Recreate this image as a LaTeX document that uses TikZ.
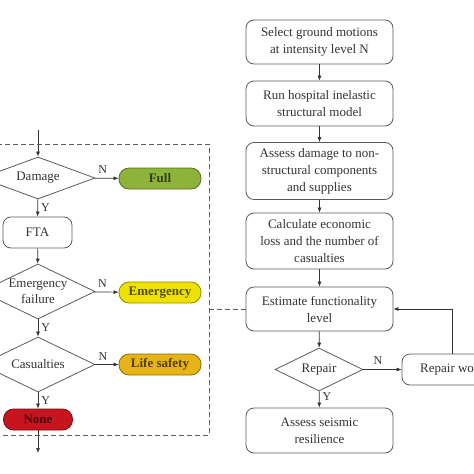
\documentclass[tikz,border=0pt]{standalone}
\usepackage{fontspec}
\setmainfont{Liberation Serif}
\usetikzlibrary{shapes.geometric,arrows.meta}

\definecolor{linegray}{HTML}{5A5A5A}
\definecolor{textgray}{HTML}{333333}
\definecolor{fullgreen}{HTML}{8DB33A}
\definecolor{emyellow}{HTML}{F0E200}
\definecolor{lifegold}{HTML}{E6B417}
\definecolor{nonered}{HTML}{C8141E}

\begin{document}
\begin{tikzpicture}[x=1pt,y=-1pt,
    font=\fontsize{13}{17}\selectfont, text=textgray,
    box/.style={draw=linegray,line width=0.8pt,rounded corners=8pt,
        minimum width=147pt,align=center,inner sep=2pt},
    smallbox/.style={draw=linegray,line width=0.8pt,rounded corners=8pt,
        minimum width=69pt,minimum height=31pt,inner sep=2pt},
    decision/.style={draw=linegray,line width=0.8pt,diamond,inner sep=0pt,
        align=center},
    level/.style={draw=#1!60!black,fill=#1,text=#1!35!black,line width=0.8pt,
        rounded corners=10pt,minimum width=82pt,minimum height=21pt,
        inner sep=1pt,font=\fontsize{13}{15}\selectfont\bfseries},
    flow/.style={draw=black!80,line width=0.7pt,-{Latex[length=5pt,width=4pt]}},
    lbl/.style={font=\fontsize{12}{14}\selectfont,inner sep=1pt}]

    \path[use as bounding box,clip] (0,0) rectangle (474,474);

    % Main procedure
    \node[box,minimum height=44pt] (select) at (319.5,42) {Select ground motions\\at intensity level N};
    \node[box,minimum height=45pt] (run) at (319.5,103.5) {Run hospital inelastic\\structural model};
    \node[box,minimum height=57pt] (assess) at (319.5,171) {Assess damage to non-\\structural components\\and supplies};
    \node[box,minimum height=56pt] (calc) at (319.5,241) {Calculate economic\\loss and the number of\\casualties};
    \node[box,minimum height=44pt] (estimate) at (319.5,309) {Estimate functionality\\level};
    \node[decision,minimum width=88pt,minimum height=43pt,aspect=2.05] (repair) at (319,369.5) {Repair};
    \node[box,minimum width=101pt,minimum height=31pt] (work) at (452.5,369.5) {Repair work};
    \node[box,minimum height=45pt] (seismic) at (319.5,430.5) {Assess seismic\\resilience};

    \draw[flow] (select) -- (run);
    \draw[flow] (run) -- (assess);
    \draw[flow] (assess) -- (calc);
    \draw[flow] (calc) -- (estimate);
    \draw[flow] (estimate) -- (repair);
    \draw[flow] (repair) -- node[lbl,pos=0.38,above=4pt] {N} (work);
    \draw[flow] (repair) -- node[lbl,pos=0.35,right=2pt] {Y} (seismic);
    \draw[flow] (work.north) |- (estimate.east);

    % Functionality levels
    \coordinate (in) at (38,130);
    \coordinate (out) at (38,453);
    \node[decision,minimum width=114pt,minimum height=42pt,aspect=2.7] (damage) at (38,178) {Damage};
    \node[level=fullgreen] (full) at (160,178.5) {Full};
    \node[smallbox] (fta) at (37.5,232.5) {FTA};
    \node[decision,minimum width=114pt,minimum height=55pt,aspect=2.07,
        font=\fontsize{13}{16}\selectfont] (emfail) at (38,291.5) {Emergency\\failure};
    \node[level=emyellow] (emergency) at (160,292.5) {Emergency};
    \node[decision,minimum width=114pt,minimum height=55pt,aspect=2.07] (casualties) at (38,364.5) {Casualties};
    \node[level=lifegold] (life) at (160,364.5) {Life safety};
    \node[level=nonered,minimum width=69pt] (none) at (38,419.5) {None};

    \draw[flow] (in) -- (damage);
    \draw[flow] (damage) -- node[lbl,pos=0.33,above=3pt] {N} (full);
    \draw[flow] (damage) -- node[lbl,right=2pt] {Y} (fta);
    \draw[flow] (fta) -- (emfail);
    \draw[flow] (emfail) -- node[lbl,pos=0.33,above=3pt] {N} (emergency);
    \draw[flow] (emfail) -- node[lbl,right=2pt] {Y} (casualties);
    \draw[flow] (casualties) -- node[lbl,pos=0.33,above=3pt] {N} (life);
    \draw[flow] (casualties) -- node[lbl,right=2pt] {Y} (none);
    \draw[flow] (none) -- (out);

    % Dashed frame and link
    \draw[linegray,line width=0.7pt,dash pattern=on 5pt off 3pt] (-10,144) rectangle (209,435);
    \coordinate (frame) at (209,309);
    \draw[linegray,line width=0.7pt,dash pattern=on 5pt off 3pt] (frame) -- (estimate.west);
\end{tikzpicture}
\end{document}
